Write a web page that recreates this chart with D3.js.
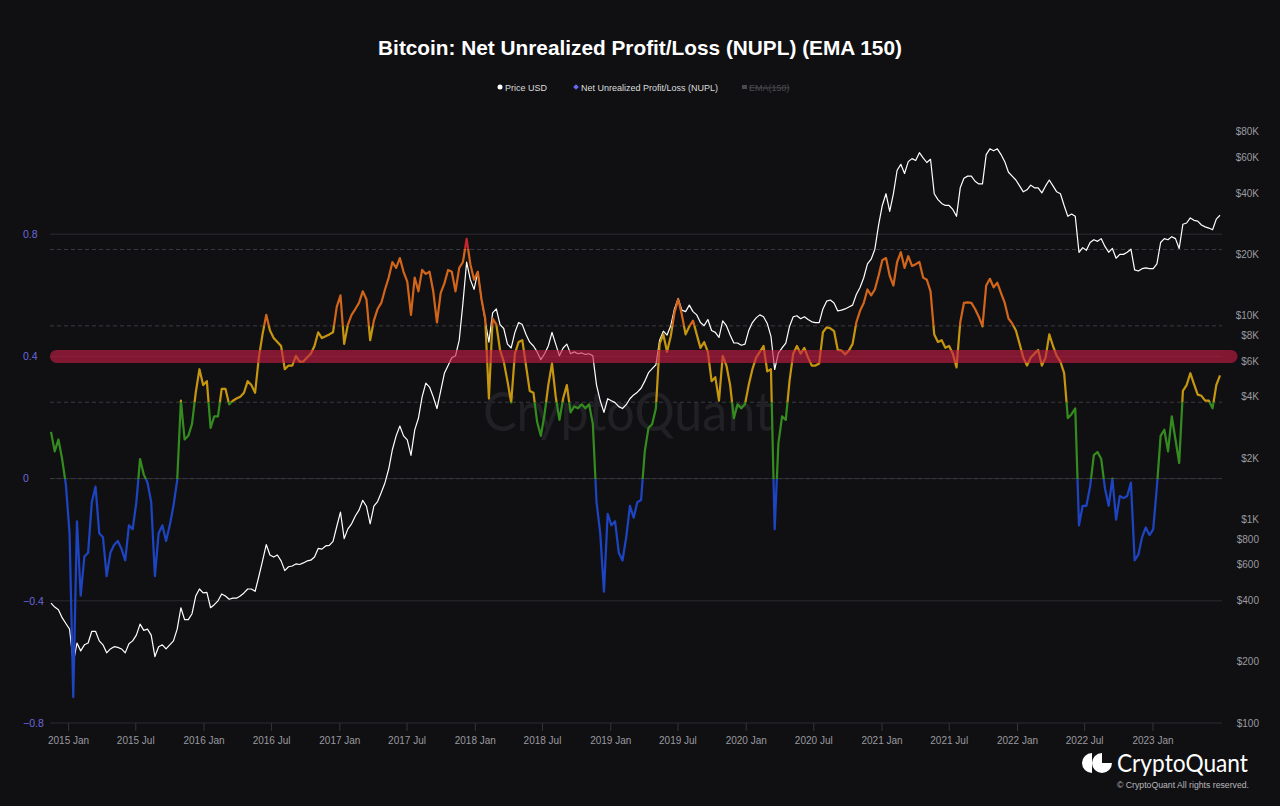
<!DOCTYPE html>
<html>
<head>
<meta charset="utf-8">
<script src="https://cdn.jsdelivr.net/npm/d3@7"></script>
<style>
  html, body { margin: 0; padding: 0; background: #101013; }
  svg { display: block; font-family: "Liberation Sans", Arial, sans-serif; }
</style>
</head>
<body>
<div id="chart"></div>
<script>
// samples every 10 days, starting here
const startDate = "2014-11-16";
const stepDays = 10;

// NUPL (EMA 150)
const nupl = [
  0.153, 0.089, 0.128, 0.064, -0.019, -0.179, -0.715, -0.14, -0.383, -0.255,
  -0.243, -0.077, -0.026, -0.179, -0.192, -0.319, -0.243, -0.217, -0.204, -0.23,
  -0.268, -0.153, -0.166, -0.077, 0.064, 0.013, -0.013, -0.077, -0.319, -0.179,
  -0.153, -0.204, -0.153, -0.089, -0.006, 0.255, 0.128, 0.140, 0.179, 0.281,
  0.358, 0.306, 0.319, 0.166, 0.204, 0.204, 0.294, 0.294, 0.243, 0.255,
  0.262, 0.268, 0.281, 0.319, 0.306, 0.281, 0.396, 0.472, 0.536, 0.485,
  0.460, 0.447, 0.434, 0.358, 0.370, 0.370, 0.402, 0.383, 0.383, 0.396,
  0.409, 0.434, 0.479, 0.460, 0.466, 0.472, 0.479, 0.562,
  0.600, 0.441, 0.504, 0.536, 0.555, 0.575, 0.613, 0.587, 0.453, 0.517,
  0.555, 0.575, 0.619, 0.658, 0.709, 0.690, 0.722, 0.677, 0.645, 0.536,
  0.658, 0.613, 0.683, 0.670, 0.677, 0.613, 0.511, 0.607, 0.639, 0.683,
  0.677, 0.613, 0.690, 0.709, 0.785, 0.702, 0.651, 0.677, 0.587, 0.524,
  0.262, 0.524, 0.504, 0.421, 0.383, 0.319, 0.249, 0.409, 0.447, 0.453,
  0.370, 0.287, 0.281, 0.185, 0.140, 0.211, 0.306, 0.377, 0.268, 0.192,
  0.262, 0.306, 0.217, 0.236, 0.230, 0.243, 0.230, 0.243, 0.179, -0.077,
  -0.179, -0.370, -0.115, -0.153, -0.140, -0.243, -0.268, -0.192, -0.089,
  -0.128, -0.077, -0.070, 0.089, 0.166, 0.179, 0.230, 0.441, 0.472, 0.415,
  0.466, 0.543, 0.587, 0.536, 0.472, 0.498, 0.517, 0.472, 0.428, 0.447,
  0.415, 0.319, 0.332, 0.255, 0.402, 0.370, 0.306, 0.198, 0.243, 0.230,
  0.243, 0.306, 0.358, 0.396, 0.415, 0.434, 0.351, 0.358, -0.166, 0.115,
  0.204, 0.192, 0.319, 0.409, 0.434, 0.409, 0.428, 0.396, 0.370, 0.370,
  0.377, 0.479, 0.495, 0.492, 0.483, 0.421, 0.419, 0.406, 0.419, 0.441,
  0.511, 0.549, 0.575, 0.619, 0.600, 0.619, 0.664, 0.715, 0.722, 0.664,
  0.632, 0.709, 0.741, 0.690, 0.728, 0.696, 0.702, 0.709,
  0.658, 0.651, 0.613, 0.472, 0.447, 0.453, 0.428, 0.434, 0.409, 0.364,
  0.511, 0.575, 0.577, 0.575, 0.555, 0.530, 0.498, 0.632, 0.654, 0.626,
  0.641, 0.607, 0.575, 0.524, 0.508, 0.485, 0.441, 0.396, 0.370, 0.396,
  0.409, 0.421, 0.370, 0.396, 0.472, 0.434, 0.402, 0.383, 0.345, 0.198,
  0.211, 0.230, -0.153, -0.089, -0.089, -0.026, 0.077, 0.087, 0.064, -0.032,
  -0.089, 0, -0.134, -0.057, -0.064, -0.057, -0.013, -0.268, -0.249, -0.192,
  -0.160, -0.185, -0.166, -0.026, 0.140, 0.160, 0.089, 0.204, 0.128, 0.051,
  0.287, 0.306, 0.345, 0.309, 0.275, 0.271, 0.255, 0.255, 0.230, 0.306,
  0.338
];

// BTC price in USD, same sample dates
const price = [
  388, 371, 360, 329, 308, 289, 198, 247, 226, 242,
  247, 282, 282, 253, 242, 221, 231, 237, 235, 231,
  221, 245, 253, 270, 306, 285, 289, 270, 212, 237,
  242, 231, 242, 253, 289, 368, 322, 322, 344, 420,
  455, 435, 438, 368, 381, 398, 430, 420, 405, 410,
  410, 420, 435, 455, 455, 443, 524, 625, 752, 668,
  653, 668, 625, 560, 585, 590, 604, 600, 611, 625,
  630, 653, 720, 714, 740, 745, 780, 922,
  1086, 804, 898, 951, 1038, 1110, 1240, 1160, 951, 1160,
  1223, 1355, 1513, 1766, 2203, 2570, 2870, 2570, 2457, 2059,
  2743, 3134, 3991, 4663, 4460, 3991, 3500, 4266, 5210, 5690,
  6212, 6350, 7580, 11530, 18330, 15030, 13460, 16420, 12050, 9440,
  7410, 10320, 10790, 9040, 8650, 7250, 6940, 8280, 9250, 9040,
  8090, 7410, 7095, 6640, 6080, 6500, 7095, 8280, 7250, 6350,
  6940, 7250, 6500, 6640, 6500, 6560, 6450, 6500, 6350, 4560,
  3820, 3350, 3910, 3820, 3740, 3575, 3500, 3655, 3910,
  4083, 4210, 4400, 4770, 5250, 5490, 5740, 7580, 8390, 8030,
  8930, 10790, 12160, 10640, 10470, 11270, 10470, 10090, 9250, 8930,
  9570, 8450, 8280, 7820, 9440, 8930, 8030, 7340, 7340, 7160,
  7250, 8450, 9250, 9750, 10090, 9880, 9160, 7920, 5440, 6550,
  6940, 7340, 8850, 9880, 9990, 9660, 9880, 9570, 9330, 9250,
  9250, 10790, 11780, 11940, 11530, 10550, 10640, 10790, 11040, 11270,
  12700, 13740, 15350, 17950, 18930, 21200, 27860, 34760, 39700, 32510,
  39700, 51760, 55340, 49890, 57040, 59040, 57810, 63100,
  59600, 56500, 58600, 39700, 37150, 35560, 34760, 34760, 33240, 30740,
  42440, 47320, 48420, 48420, 45710, 44360, 44360, 61800, 65960, 64550,
  65960, 61800, 57040, 50580, 48420, 46350, 43350, 40550, 41500, 43750,
  42440, 42440, 40070, 43350, 46350, 43350, 40550, 39700, 34760, 30740,
  31550, 30740, 20470, 21580, 20930, 22870, 23600, 23170, 23890, 21880,
  20470, 21380, 19140, 20000, 20000, 20470, 21200, 16790, 16560, 17020,
  17150, 17020, 17020, 17950, 22870, 23890, 23600, 24430, 23890, 21380,
  28120, 28510, 30200, 29380, 29110, 27860, 27290, 26920, 26420, 29790,
  31120
];

// axis ticks
const nuplTicks = [-0.8, -0.4, 0, 0.4, 0.8];
const priceTicks = [100, 200, 400, 600, 800, 1000, 2000, 4000, 6000, 8000,
                    10000, 20000, 40000, 60000, 80000];
const lastTick = "2023-01-01";
// NUPL zones: capitulation / hope-fear / optimism / belief / euphoria
const zoneEdges = [0, 0.25, 0.5, 0.75];
const zoneColors = ["#1d44c2", "#348c1e", "#c6960f", "#d2651a", "#c0262b"];
const highlightLevel = 0.4;

const width = 1280;
const height = 806;
const marginTop = 112;
const marginBottom = 83;
const plotLeft = 50;
const plotRight = 1222;

const parse = d3.utcParse("%Y-%m-%d");
const t0 = parse(startDate);
const dates = nupl.map((d, i) => d3.utcDay.offset(t0, i * stepDays));

const x = d3.scaleUtc()
    .domain(d3.extent(dates))
    .range([51, 1220]);

const y = d3.scaleLinear()
    .domain([-0.8, 1.2])
    .range([height - marginBottom, marginTop]);

const yPrice = d3.scaleLog()
    .domain([100, 100000])
    .range([height - marginBottom, marginTop]);

const svg = d3.select("#chart").append("svg")
    .attr("width", width)
    .attr("height", height)
    .attr("viewBox", [0, 0, width, height]);

svg.append("rect")
    .attr("width", width).attr("height", height)
    .attr("fill", "#101013");

// title
svg.append("text")
    .attr("x", width / 2).attr("y", 55)
    .attr("text-anchor", "middle")
    .attr("fill", "#ffffff")
    .attr("font-size", 20.8)
    .attr("font-weight", "bold")
    .text("Bitcoin: Net Unrealized Profit/Loss (NUPL) (EMA 150)");

// legend
const legend = svg.append("g").attr("font-size", 9);
legend.append("circle").attr("cx", 500).attr("cy", 87).attr("r", 2.5).attr("fill", "#ffffff");
legend.append("text").attr("x", 505).attr("y", 90.5).attr("fill", "#dddddd").text("Price USD");
legend.append("path")
    .attr("d", d3.symbol(d3.symbolSquare, 16)())
    .attr("transform", "translate(576,87) rotate(45)")
    .attr("fill", "#6c67f2");
legend.append("text").attr("x", 581).attr("y", 90.5).attr("fill", "#dddddd")
    .text("Net Unrealized Profit/Loss (NUPL)");
legend.append("rect").attr("x", 742).attr("y", 85).attr("width", 5).attr("height", 4).attr("fill", "#4a4a4e");
legend.append("text").attr("x", 749).attr("y", 90.5).attr("fill", "#4a4a4e")
    .attr("text-decoration", "line-through")
    .text("EMA(150)");

// grid lines on the NUPL ticks
svg.append("g")
    .selectAll("line")
    .data(nuplTicks)
    .join("line")
      .attr("x1", plotLeft).attr("x2", plotRight)
      .attr("y1", d => y(d)).attr("y2", d => y(d))
      .attr("stroke", "#2b2b30")
      .attr("stroke-width", 1);

// dashed zone thresholds
svg.append("g")
    .selectAll("line")
    .data(zoneEdges)
    .join("line")
      .attr("x1", plotLeft).attr("x2", plotRight)
      .attr("y1", d => y(d)).attr("y2", d => y(d))
      .attr("stroke", "#3a3a40")
      .attr("stroke-dasharray", "4,3");

// watermark
svg.append("text")
    .attr("x", 628).attr("y", 431)
    .attr("text-anchor", "middle")
    .attr("font-family", "Lato, 'Open Sans', sans-serif")
    .attr("font-size", 54)
    .attr("textLength", 290)
    .attr("lengthAdjust", "spacingAndGlyphs")
    .attr("fill", "#202025")
    .text("CryptoQuant");

// left axis (NUPL)
svg.append("g")
    .attr("transform", "translate(23,0)")
    .call(d3.axisRight(y).tickValues(nuplTicks).tickSize(0).tickPadding(0)
        .tickFormat(d => d3.format("")(d)))
    .call(g => g.select(".domain").remove())
    .call(g => g.selectAll("text")
        .attr("fill", "#6b67dc")
        .attr("font-size", 10.5)
        .attr("font-family", "'Liberation Sans', Arial, sans-serif"));

// right axis (price)
svg.append("g")
    .attr("transform", "translate(1259,0)")
    .call(d3.axisLeft(yPrice).tickValues(priceTicks).tickSize(0).tickPadding(0)
        .tickFormat(d => d >= 1000 ? `$${d / 1000}K` : `$${d}`))
    .call(g => g.select(".domain").remove())
    .call(g => g.selectAll("text")
        .attr("fill", "#9a9a9f")
        .attr("font-size", 10)
        .attr("font-family", "'Liberation Sans', Arial, sans-serif"));

// bottom axis, half-year ticks
const xTicks = d3.utcMonth.every(6).range(x.domain()[0], d3.utcDay.offset(parse(lastTick), 1));
svg.append("g")
    .attr("transform", `translate(0,${height - marginBottom})`)
    .call(d3.axisBottom(x)
        .tickValues(xTicks)
        .tickSize(8)
        .tickPadding(6)
        .tickFormat(d3.utcFormat("%Y %b")))
    .call(g => g.select(".domain").remove())
    .call(g => g.selectAll(".tick line").attr("stroke", "#34343a"))
    .call(g => g.selectAll("text")
        .attr("fill", "#9a9a9f")
        .attr("font-size", 10)
        .attr("font-family", "'Liberation Sans', Arial, sans-serif"));

// price line
const priceLine = d3.line()
    .x((d, i) => x(dates[i]))
    .y(d => yPrice(d));

svg.append("path")
    .datum(price)
    .attr("fill", "none")
    .attr("stroke", "#ffffff")
    .attr("stroke-width", 1.2)
    .attr("stroke-linejoin", "round")
    .attr("d", priceLine);

// NUPL line coloured by zone with a vertical gradient
const grad = svg.append("defs").append("linearGradient")
    .attr("id", "nuplGrad")
    .attr("gradientUnits", "userSpaceOnUse")
    .attr("x1", 0).attr("x2", 0)
    .attr("y1", y(1.2)).attr("y2", y(-0.8));

const frac = v => (y(v) - y(1.2)) / (y(-0.8) - y(1.2));
const edgesTop = zoneEdges.slice().reverse(); // 0.75, 0.5, 0.25, 0
const colorsTop = zoneColors.slice().reverse();
grad.append("stop").attr("offset", 0).attr("stop-color", colorsTop[0]);
edgesTop.forEach((e, i) => {
  grad.append("stop").attr("offset", frac(e)).attr("stop-color", colorsTop[i]);
  grad.append("stop").attr("offset", frac(e)).attr("stop-color", colorsTop[i + 1]);
});
grad.append("stop").attr("offset", 1).attr("stop-color", colorsTop[colorsTop.length - 1]);

const nuplLine = d3.line()
    .x((d, i) => x(dates[i]))
    .y(d => y(d));

svg.append("path")
    .datum(nupl)
    .attr("fill", "none")
    .attr("stroke", "url(#nuplGrad)")
    .attr("stroke-width", 2.2)
    .attr("stroke-linejoin", "round")
    .attr("d", nuplLine);

// highlighted 0.4 level
svg.append("line")
    .attr("x1", plotLeft + 6.5).attr("x2", plotRight + 9)
    .attr("y1", y(highlightLevel)).attr("y2", y(highlightLevel))
    .attr("stroke", "rgb(200,28,70)")
    .attr("stroke-opacity", 0.62)
    .attr("stroke-width", 13)
    .attr("stroke-linecap", "round");

// logo
const logo = svg.append("g");
logo.append("path")
    .attr("d", "M1092,753 A10,10 0 0,0 1092,773 Z")
    .attr("fill", "#ffffff");
logo.append("path")
    .attr("d", "M1102,753 A10,10 0 1,0 1112,763 L1102,763 Z")
    .attr("fill", "#ffffff");
logo.append("text")
    .attr("x", 1117).attr("y", 772)
    .attr("font-family", "Lato, 'Open Sans', sans-serif")
    .attr("font-size", 25)
    .attr("textLength", 131)
    .attr("lengthAdjust", "spacingAndGlyphs")
    .attr("fill", "#ffffff")
    .text("CryptoQuant");
logo.append("text")
    .attr("x", 1117).attr("y", 788)
    .attr("font-size", 8.5)
    .attr("textLength", 132)
    .attr("lengthAdjust", "spacingAndGlyphs")
    .attr("fill", "#b8b8bc")
    .text("© CryptoQuant All rights reserved.");
</script>
</body>
</html>
